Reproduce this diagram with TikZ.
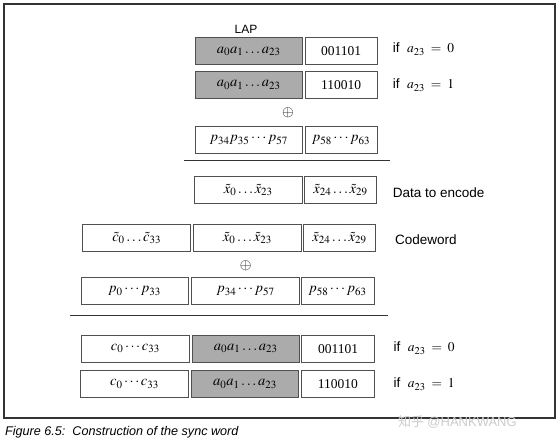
\documentclass[tikz,border=0pt]{standalone}
\usepackage{mathptmx}
\usepackage[no-math]{fontspec}
\setmainfont{Liberation Serif}
\setsansfont{Liberation Sans}
\newfontfamily\cjkfont{Noto Sans CJK SC}
\DeclareMathSizes{13.5}{13.5}{10.5}{8}
\DeclareMathSizes{14.5}{14.5}{11}{8.5}
\definecolor{boxline}{HTML}{505050}
\definecolor{lapgray}{HTML}{ABABAB}
\definecolor{framecol}{HTML}{333333}
\tikzset{
  box/.style={draw=boxline, line width=0.8pt, minimum height=27pt, inner sep=0pt,
    font=\fontsize{14.5}{16}\selectfont},
  digits/.style={font=\fontsize{13.5}{15}\selectfont},
  wa/.style={box, minimum width=107.5pt},
  wb/.style={box, minimum width=72pt},
  lap/.style={fill=lapgray},
  lbl/.style={anchor=west, inner sep=0pt, font=\sffamily\fontsize{13.5}{15}\selectfont},
  rule/.style={draw=framecol, line width=0.9pt},
  xorsym/.style={inner sep=0pt, font=\fontsize{15}{16}\selectfont}
}
\begin{document}
\begin{tikzpicture}[x=1pt,y=-1pt]
\useasboundingbox (0,0) rectangle (560,445);
% frame
\draw[draw=framecol, line width=1.3pt] (4,4) rectangle (555,418);
\node[inner sep=0pt, font=\sffamily\fontsize{12}{13}\selectfont] (laplbl) at (246,29.5) {LAP};
% top section
\node[wa,lap] (t1a) at (248.75,51.25) {$a_0a_1\ldots a_{23}$};
\node[wb,digits] (t1b) at (341,51.25) {001101};
\node[lbl] (t1c) at (392.7,49) {if\ \ $a_{23}\;=\;0$};
\node[wa,lap] (t2a) at (248.75,85) {$a_0a_1\ldots a_{23}$};
\node[wb,digits] (t2b) at (341,85) {110010};
\node[lbl] (t2c) at (392.7,85) {if\ \ $a_{23}\;=\;1$};
\node[xorsym] (x1) at (288,112.5) {$\oplus$};
\node[wa] (p1a) at (248.75,140) {$p_{34}p_{35}\cdots p_{57}$};
\node[wb] (p1b) at (341,140) {$p_{58}\cdots p_{63}$};
\coordinate (l1s) at (184,160.7);
\coordinate (l1e) at (390,160.7);
\draw[rule] (l1s) -- (l1e);
% data to encode
\node[box, minimum width=108pt] (d1) at (248.3,190) {$\tilde{x}_0\ldots\tilde{x}_{23}$};
\node[box, minimum width=72.4pt] (d2) at (340.5,190) {$\tilde{x}_{24}\ldots\tilde{x}_{29}$};
\node[lbl] (dl) at (392.7,193) {Data to encode};
% codeword
\node[box, minimum width=108pt] (c0) at (136.7,238) {$\tilde{c}_0\ldots\tilde{c}_{33}$};
\node[box, minimum width=108.2pt] (c1) at (247.4,238) {$\tilde{x}_0\ldots\tilde{x}_{23}$};
\node[box, minimum width=72.4pt] (c2) at (339.5,238) {$\tilde{x}_{24}\ldots\tilde{x}_{29}$};
\node[lbl] (cl) at (395,240) {Codeword};
\node[xorsym] (x2) at (245.7,265.7) {$\oplus$};
\node[box, minimum width=107.3pt] (q0) at (134.65,291) {$p_0\cdots p_{33}$};
\node[box, minimum width=107.6pt] (q1) at (245.5,291) {$p_{34}\cdots p_{57}$};
\node[box, minimum width=73pt] (q2) at (337.5,291) {$p_{58}\cdots p_{63}$};
\coordinate (l2s) at (70,315.7);
\coordinate (l2e) at (387.7,315.7);
\draw[rule] (l2s) -- (l2e);
% result
\node[box, minimum width=107.8pt] (s1a) at (135.4,348.7) {$c_0\cdots c_{33}$};
\node[box, lap, minimum width=107pt] (s1b) at (245.8,348.7) {$a_0a_1\ldots a_{23}$};
\node[box, digits, minimum width=72.6pt] (s1c) at (338,348.7) {001101};
\node[lbl] (s1d) at (393.3,348) {if\ \ $a_{23}\;=\;0$};
\node[box, minimum width=107.6pt] (s2a) at (134.5,384) {$c_0\cdots c_{33}$};
\node[box, lap, minimum width=106.6pt] (s2b) at (245,384) {$a_0a_1\ldots a_{23}$};
\node[box, digits, minimum width=72.3pt] (s2c) at (337.85,384) {110010};
\node[lbl] (s2d) at (393.3,384) {if\ \ $a_{23}\;=\;1$};
% caption
\node[anchor=west, inner sep=0pt, font=\sffamily\itshape\fontsize{12.6}{14}\selectfont] (cap) at (5,432.7) {Figure 6.5:\ \ Construction of the sync word};
% watermark
\node[anchor=west, inner sep=0pt, text=black!20, font=\fontsize{13}{15}\selectfont] (wm) at (398,422) {{\cjkfont 知乎} \sffamily @HANKWANG};
\end{tikzpicture}
\end{document}
